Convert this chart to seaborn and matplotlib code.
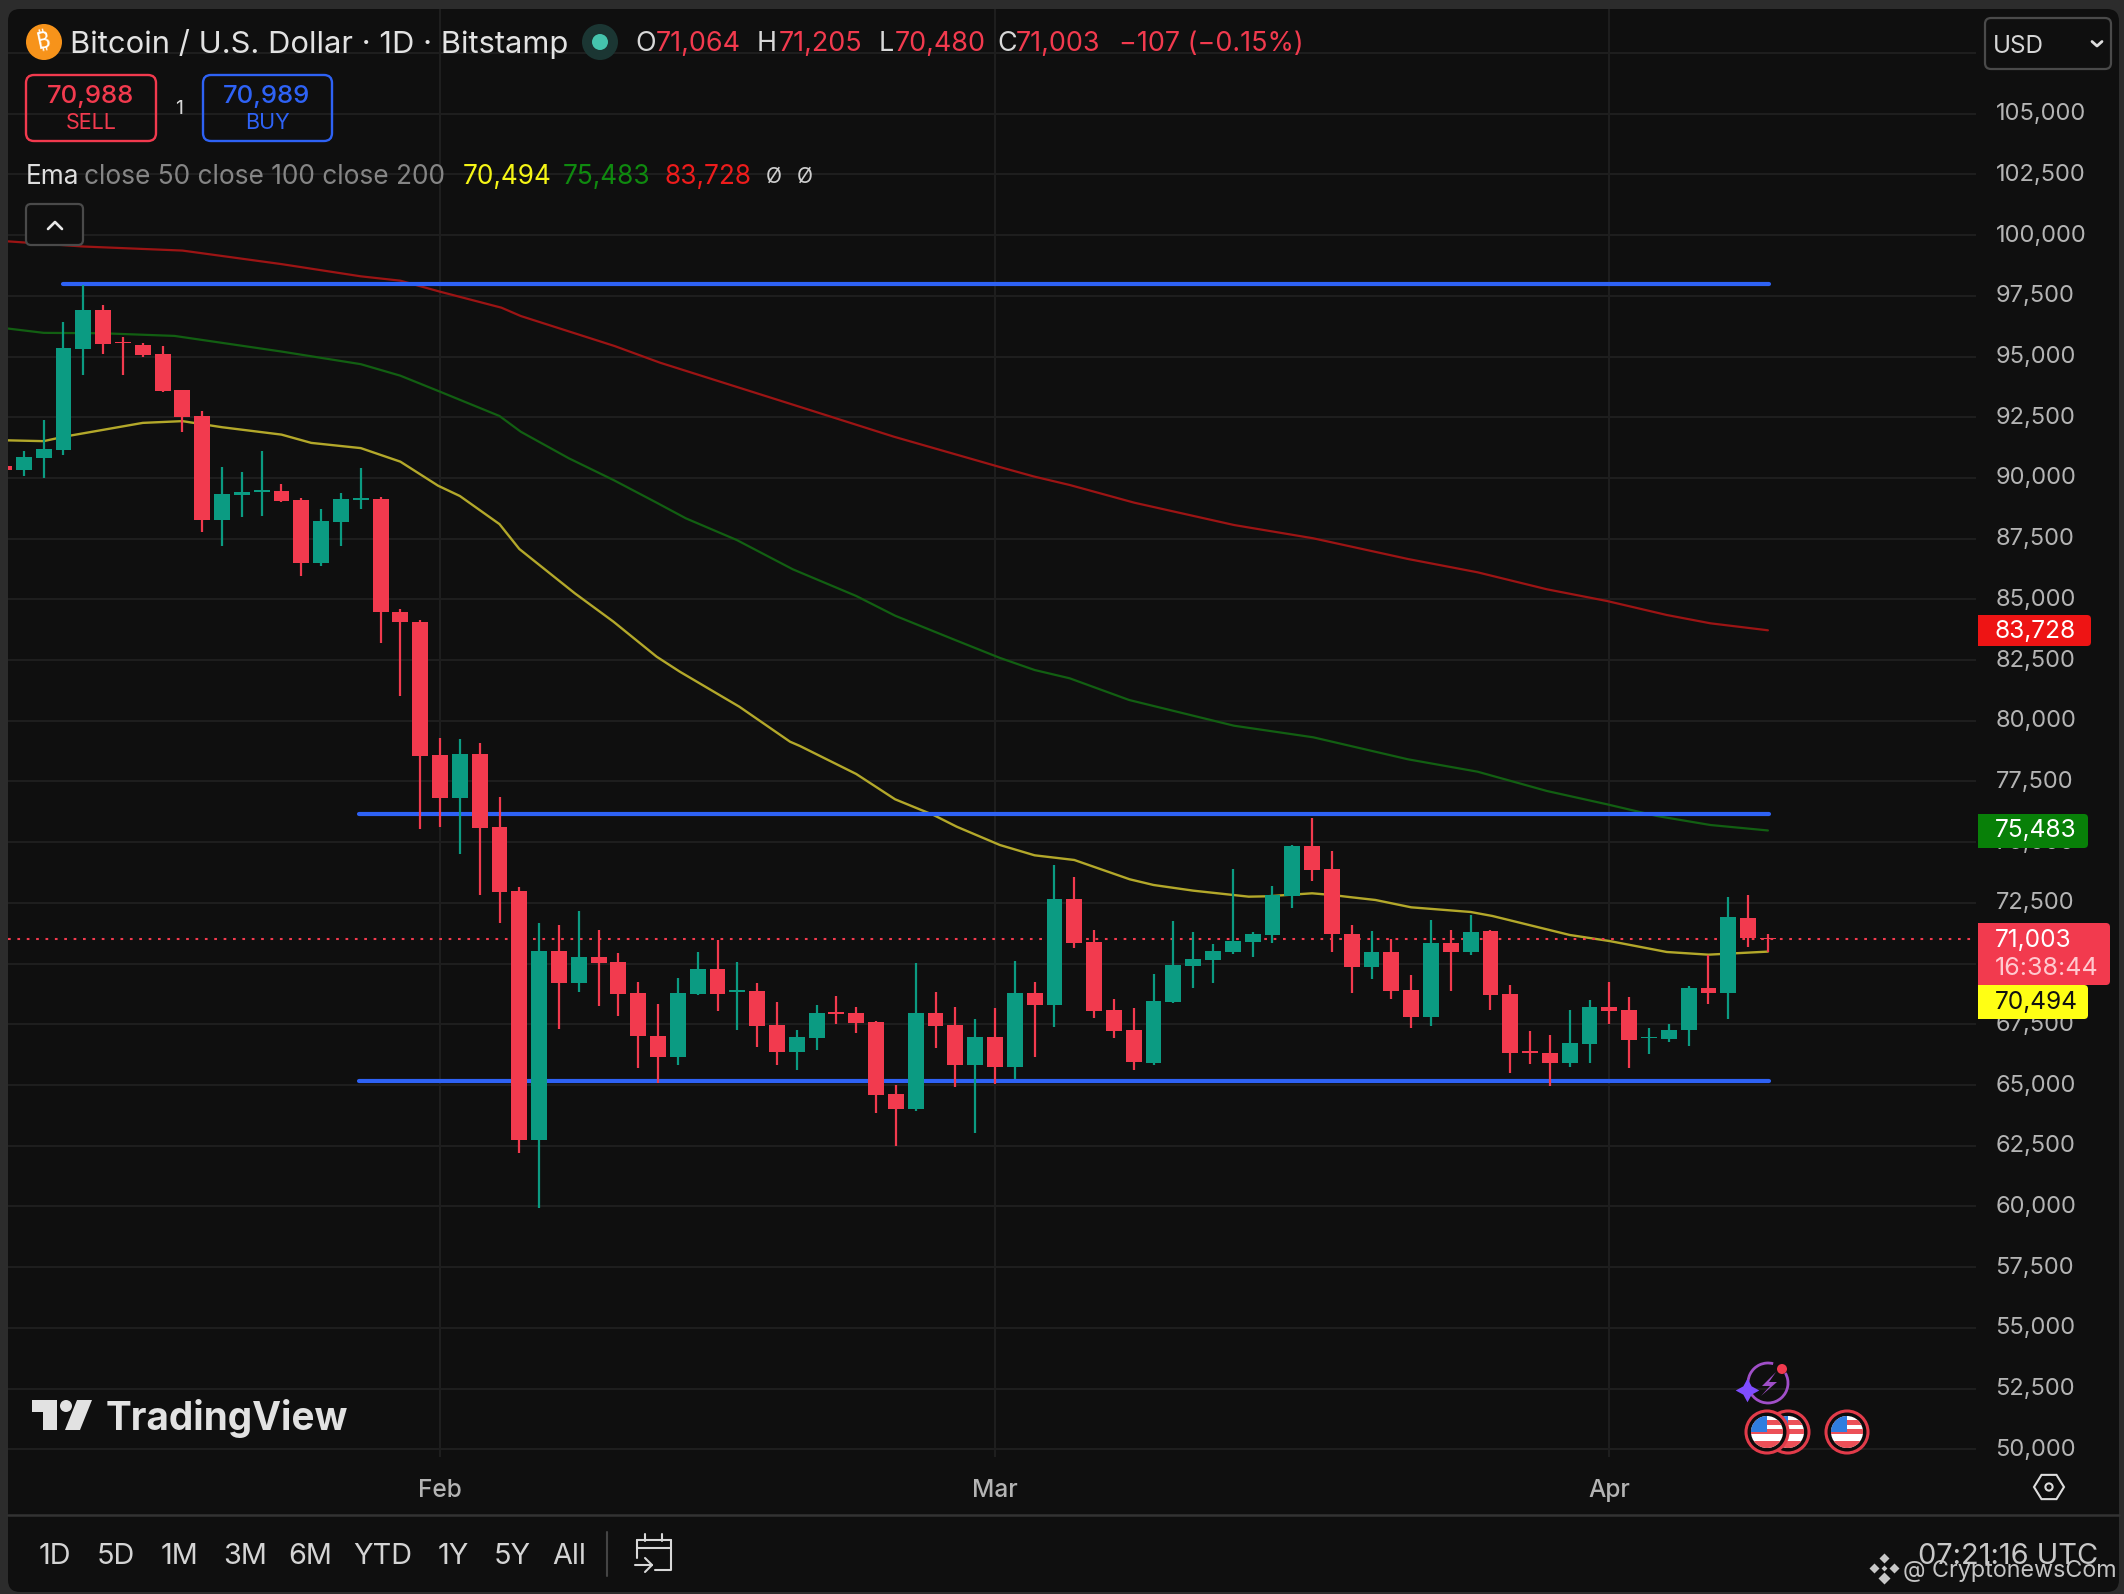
import numpy as np
import pandas as pd
import matplotlib
matplotlib.use("Agg")
import matplotlib.pyplot as plt
from matplotlib.patches import Rectangle, FancyBboxPatch, Circle, Polygon, Arc
from matplotlib.transforms import ScaledTranslation
import seaborn as sns

# ---------------- data ----------------
opens = [90500,90320,90820,91160,95315,96927,95619,95494,95118,93631,92557,88258,89315,89405,89458,89082,
         86485,88187,89100,89136,84497,84085,78605,76832,78641,75627,72977,62735,70519,69215,70272,70066,
         68776,67018,66153,68748,69764,68844,68872,67471,66359,66936,67993,67966,67595,64629,64011,67966,
         67471,65824,66977,65741,68789,68295,72661,70890,68089,67265,65906,68419,69902,70149,70478,70890,
         71179,72785,74844,73897,71220,69860,70478,68913,67801,70849,70478,71343,68748,66400,66318,65906,
         66689,68213,68089,66922,66895,67265,68995,68789,71879,71064]
highs = [90560,91106,92378,96443,97930,97142,95799,95566,95440,93631,92772,90443,90246,91106,89745,89172,
         88724,89369,90426,89208,84587,84139,79303,79250,79106,76876,73142,71659,71590,72167,71384,70437,
         69243,68350,69394,70465,70959,70053,69188,68419,67279,68295,68666,68213,67636,65000,70025,68831,
         68213,67719,68172,70108,69243,74062,73568,71384,68542,68172,69572,71755,71302,70808,73897,71302,
         73197,74886,75998,74638,71590,71343,71014,69531,71796,71384,72002,71384,69119,67224,67060,68089,
         68501,69243,68638,67348,67513,69078,70355,72744,72826,71205]
lows = [90280,90085,89996,90945,94258,95118,94258,94993,93542,91894,87757,87184,88384,88420,89011,85984,
        86396,87184,88706,83208,81041,75560,75632,74522,72820,71659,62213,59947,67307,68844,68254,67856,
        65700,65096,65824,68707,68048,67265,66565,65824,65618,66442,67513,67128,63847,62501,63943,66524,
        64918,63023,65041,65247,66153,67389,70643,67760,66936,65618,65824,68378,68995,69201,70396,70259,
        70849,72291,73403,70478,68789,69366,68542,67348,67430,68872,70355,68089,65494,65865,64959,65741,
        65906,67513,65700,66277,66757,66606,68336,67719,70684,70480]
closes = [90320,90855,91196,95369,96927,95530,95548,95082,93596,92521,88258,89333,89440,89512,89046,86485,
          88223,89136,89172,84462,84050,78569,76832,78641,75596,72950,62735,70519,69215,70272,70025,68748,
          67018,66153,68776,69764,68748,68913,67430,66359,66977,67966,67938,67554,64588,64011,67966,67430,
          65824,66977,65741,68789,68295,72661,70849,68048,67224,65947,68460,69943,70190,70519,70931,71220,
          72826,74844,73856,71220,69860,70478,68872,67801,70849,70478,71302,68707,66318,66332,65906,66730,
          68213,68048,66854,66977,67265,68995,68789,71920,71055,71003]

ema50_idx = [0,2,3,7,9,11,14,15.5,18,20,21.9,23,25,26,28.8,30.75,32.93,34.1,37.1,39.66,40.16,43,44.96,46.9,48.07,
             50.25,52,54,56.8,58,60,62.8,63.7,66,67,68,69.2,71,74,75.1,79,81,83.9,86,89]
ema50_val = [91554,91518,91697,92270,92342,92091,91787,91446,91231,90672,89683,89258,88100,87076,85251,84082,
             82640,82022,80581,79139,78962,77809,76767,76120,75638,74884,74460,74268,73472,73238,73005,72757,
             72771,72895,72826,72730,72620,72318,72126,71961,71179,70931,70478,70368,70494]
ema100_idx = [0,2,5,8.6,14,18,20,22,25,26.07,28.5,30.75,32.93,34.4,36.97,39.8,43,44.96,47.9,50.25,52,53.77,56.77,
              62.06,66.06,70.84,74.35,77.85,80.88,83.4,86.1,89]
ema100_val = [96175,95978,95960,95852,95208,94688,94213,93554,92553,91907,90811,89917,88983,88340,87446,86239,
              85140,84329,83357,82590,82092,81750,80857,79798,79320,78414,77904,77109,76561,76079,75708,75483]
ema200_idx = [0,4,9,14,18,20,22,25.1,26.07,30.8,33.1,39.86,44.9,50.25,52,53.77,57.03,62.06,66.06,70.84,74.35,
              77.85,80.88,83.9,86.1,89]
ema200_val = [99757,99534,99367,98809,98306,98126,97673,97014,96672,95437,94749,93006,91701,90450,90054,89712,
              88983,88064,87516,86664,86116,85416,84934,84357,84015,83728]

level_values = [97985, 76162, 65165]
level_starts = [3, 17.9, 17.9]
level_end = 89.08
last_price = 71003

month_pos = [22, 50, 81]
month_labels = ["Feb", "Mar", "Apr"]
price_ticks = list(range(50000, 107501, 2500))
price_labels = [f"{v:,}" if v <= 105000 else "" for v in price_ticks]
range_labels = ["1D", "5D", "1M", "3M", "6M", "YTD", "1Y", "5Y", "All"]
range_x = [55, 116, 180, 245, 310, 383, 453, 512, 569]

# ---------------- style ----------------
BG = "#0f0f0f"; EDGE = "#2c2c2c"; GRID = "#1e1e1e"
RED = "#f23a4e"; GREEN = "#0b9b82"; BLUE = "#2e62f5"
TXT = "#d8d8d8"; AXT = "#b4b4b4"

sns.set_theme(style="dark", rc={"axes.facecolor": BG, "figure.facecolor": EDGE})
plt.rcParams["font.family"] = ["Inter", "DejaVu Sans"]

W, H = 2124, 1594
fig = plt.figure(figsize=(W/100, H/100), dpi=100)
fig.patch.set_facecolor(EDGE)

# rounded pane behind everything
bg = fig.add_axes([0, 0, 1, 1], zorder=-1)
bg.set_xlim(0, W); bg.set_ylim(H, 0); bg.axis("off")
bg.add_patch(FancyBboxPatch((8+12, 9+12), 2119-8-24, 1592-9-24, boxstyle="round,pad=12,rounding_size=12",
                            fc=BG, ec="none"))

L, R, T, B = 8, 1976, 9, 1457
ax = fig.add_axes([L/W, 1-B/H, (R-L)/W, (B-T)/H], zorder=1)
ax.patch.set_visible(False)
for s in ax.spines.values():
    s.set_visible(False)
ax.set_xlim(0.2, 99.5)
ax.set_ylim(49679, 109316)

ax.set_yticks(price_ticks, price_labels)
ax.yaxis.tick_right()
ax.set_xticks(month_pos, month_labels)
ax.tick_params(axis="y", length=0, pad=14, labelsize=17, labelcolor=AXT)
ax.tick_params(axis="x", length=0, pad=15.5, labelsize=17.6, labelcolor=AXT)
up = ScaledTranslation(0, 2/100, fig.dpi_scale_trans)
for t in ax.get_yticklabels():
    t.set_transform(t.get_transform() + up)
for t in ax.get_xticklabels():
    t.set_fontweight("medium")
ax.grid(True, color=GRID, lw=1.5, zorder=0)
ax.set_axisbelow(True)

# EMA lines and levels through seaborn
sns.lineplot(x=ema200_idx, y=ema200_val, color="#9c1414", lw=1.6, ax=ax, sort=False, estimator=None, zorder=2)
sns.lineplot(x=ema100_idx, y=ema100_val, color="#125f12", lw=1.6, ax=ax, sort=False, estimator=None, zorder=2)
sns.lineplot(x=ema50_idx, y=ema50_val, color="#b3a82a", lw=1.7, ax=ax, sort=False, estimator=None, zorder=2)
for v, s in zip(level_values, level_starts):
    sns.lineplot(x=[s, level_end], y=[v, v], color=BLUE, lw=3.0, ax=ax, estimator=None, zorder=2.5,
                 solid_capstyle="round")
ax.axhline(last_price, color=RED, lw=1.5, ls=(0, (1.3, 3.2)), zorder=2.2)
ax.set_xlabel(""); ax.set_ylabel("")

# candles
df = pd.DataFrame({"o": opens, "h": highs, "l": lows, "c": closes})
df["i"] = np.arange(len(df))
df["col"] = np.where(df.c >= df.o, GREEN, RED)
ax.vlines(df.i, df.l, df.h, colors=df.col, lw=1.6, zorder=3)
ax.bar(df.i, (df.c - df.o).abs(), bottom=df[["o", "c"]].min(axis=1), width=0.8, color=df.col, lw=0, zorder=3.1)

# ---------------- chrome overlay (pixel coordinates) ----------------
ui = fig.add_axes([0, 0, 1, 1], zorder=10)
ui.set_xlim(0, W); ui.set_ylim(H, 0); ui.axis("off"); ui.patch.set_visible(False)
ui.plot([L, 2119], [1515, 1515], color="#333333", lw=1.8, zorder=1)

def txt(x, y, s, c=TXT, size=16, ha="left", va="center", **k):
    return ui.text(x, y, s, color=c, fontsize=size, ha=ha, va=va, zorder=5, **k)

def rbox(x0, y0, x1, y1, fc="none", ec="none", lw=1.5, r=8, z=3):
    ui.add_patch(FancyBboxPatch((x0+r, y0+r), x1-x0-2*r, y1-y0-2*r, boxstyle=f"round,pad={r},rounding_size={r}",
                                fc=fc, ec=ec, lw=lw, zorder=z))

# title row
ui.add_patch(Circle((44, 42), 18, fc="#f7931a", ec="none", zorder=3))
txt(44, 42, "₿", "white", 17, ha="center", fontweight="bold", rotation=12,
    family=["Noto Sans", "Roboto", "Open Sans", "Lato", "Inter", "Liberation Sans", "DejaVu Sans"])
txt(70, 44, "Bitcoin / U.S. Dollar · 1D · Bitstamp", "#e2e2e2", 22.25)
ui.add_patch(Circle((600, 42), 18, fc="#1b3633", ec="none", zorder=3))
ui.add_patch(Circle((600, 42), 8, fc="#45c4ad", ec="none", zorder=4))
for x, s, c in [(635, "O", TXT), (656, "71,064", RED), (757, "H", TXT), (779, "71,205", RED), (879, "L", TXT),
                (895, "70,480", RED), (997, "C", TXT), (1016, "71,003", RED), (1119, "−107 (−0.15%)", RED)]:
    txt(x, 44, s, c, 19.4)

# sell / buy
rbox(26, 75, 156, 141, ec=RED, lw=1.7)
rbox(203, 75, 332, 141, ec=BLUE, lw=1.7)
txt(91, 96.5, "70,988", RED, 18.5, ha="center", fontweight="medium")
txt(91, 123, "SELL", RED, 15.5, ha="center")
txt(267, 96.5, "70,989", BLUE, 18.5, ha="center", fontweight="medium")
txt(267, 123, "BUY", BLUE, 15.5, ha="center")
txt(179, 109, "1", TXT, 14, ha="center")

# indicator row
txt(26, 177, "Ema", "#dedede", 18.9)
txt(84, 177, "close 50 close 100 close 200", "#858585", 18.9)
txt(463, 177, "70,494", "#f5f516", 18.9)
txt(563, 177, "75,483", "#0f8a0f", 18.9)
txt(664, 177, "83,728", "#ee1c1c", 18.9)
txt(774, 177, "Ø", "#cccccc", 15, ha="center")
txt(805, 177, "Ø", "#cccccc", 15, ha="center")

rbox(26, 204, 83, 245, fc=BG, ec="#4a4a4a", lw=1.6, r=5)
ui.plot([48, 55, 62], [229, 222, 229], color="#e8e8e8", lw=1.9, zorder=5)

# USD selector
rbox(1985, 18, 2111, 69, ec="#4a4a4a", lw=1.6, r=6, fc=BG)
txt(1993, 46, "USD", "#d6d6d6", 17.5)
ui.plot([2092, 2097, 2102], [41.5, 46, 41.5], color="#dddddd", lw=2, zorder=5)

# price tags: square on the left, rounded on the right
def tag(x0, y0, x1, y1, fc, lines, r=4):
    rbox(x0, y0, x1, y1, fc=fc, r=r, z=4)
    ui.add_patch(Rectangle((x0, y0), 12, y1-y0, fc=fc, ec="none", zorder=4))
    for y, s, c, sz in lines:
        txt(1995, y, s, c, sz)

tag(1978, 615, 2091, 646, "#ee1414", [(631, "83,728", "white", 17.6)])
tag(1978, 814, 2088, 848, "#088008", [(830, "75,483", "white", 17.6)])
tag(1978, 923, 2110, 985, RED, [(940, "71,003", "white", 17.6), (968, "16:38:44", "#ffc9cf", 18)])
tag(1978, 985, 2088, 1019, "#ffff14", [(1002, "70,494", "#111111", 17.6)])

# bottom toolbar
for x, s in zip(range_x, range_labels):
    txt(x, 1556, s, "#d4d4d4", 20.8, ha="center")
ui.plot([607, 607], [1532, 1576], color="#444444", lw=1.5, zorder=3)
cal = dict(color="#d8d8d8", lw=1.5, zorder=4, solid_capstyle="round")
ui.plot([637, 637], [1558, 1540], **cal); ui.plot([637, 671], [1540, 1540], **cal)
ui.plot([671, 671, 667, 655], [1540, 1570, 1570, 1570], **cal); ui.plot([637, 671], [1548, 1548], **cal)
ui.plot([645, 645], [1534, 1541], **cal); ui.plot([662, 662], [1534, 1541], **cal)
ui.plot([635, 652], [1565, 1565], **cal); ui.plot([645, 652, 645], [1558, 1565, 1572], **cal)

txt(1918, 1556, "07:21:16 UTC", "#c8c8c8", 20.9)
txt(1903, 1571, "@ CryptonewsCom", "#c4c4c4", 16.8)
for dx, dy, sz in [(0, -10, 5), (-10, 0, 5), (10, 0, 5), (0, 10, 6), (0, 0, 3)]:
    ui.plot(1884+dx, 1568+dy, marker="D", ms=sz, color="#c8c8c8", mec="none", zorder=5)

# hexagon settings icon
ang = np.deg2rad(np.arange(0, 360, 60))
ui.add_patch(Polygon(np.c_[2049+15*np.cos(ang), 1487+14*np.sin(ang)], closed=True, fc="none", ec="#dddddd", lw=1.5, zorder=4))
ui.add_patch(Circle((2049, 1487), 3.6, fc="none", ec="#dddddd", lw=1.5, zorder=4))

# TradingView logo
logo = "#e2e2e2"
ui.add_patch(Polygon([(32, 1400), (57, 1400), (57, 1430), (43, 1430), (43, 1412), (32, 1412)], fc=logo, ec="none", zorder=4))
ui.add_patch(Circle((66, 1406), 6, fc=logo, ec="none", zorder=4))
ui.add_patch(Polygon([(77, 1400), (92, 1400), (80, 1430), (65, 1430)], fc=logo, ec="none", zorder=4))
txt(106, 1419, "TradingView", logo, 27.9, fontweight="bold", family=["Inter"])

# event icons
ui.add_patch(Arc((1768, 1383), 40, 40, theta1=-30, theta2=285, ec="#a04fc8", lw=2, zorder=4))
ui.add_patch(Polygon([(1776, 1372), (1762, 1386), (1770, 1386), (1761, 1396), (1777, 1382), (1769, 1382)], fc="#a04fc8", ec="none", zorder=5))
ui.add_patch(Circle((1782, 1369), 5, fc=RED, ec="none", zorder=6))
ui.plot(1747, 1390, marker=(4, 1, 0), ms=17, color="#7f4dff", mec="none", zorder=6)

def flag(cx, cy, z):
    ui.add_patch(Circle((cx, cy), 21, fc="#0c0c0c", ec="#e23b4a", lw=2.2, zorder=z))
    disc = Circle((cx, cy), 16, fc="white", ec="none", zorder=z+.1)
    ui.add_patch(disc)
    for k, yy in enumerate([cy-10, cy-1, cy+9]):
        r = Rectangle((cx-17, yy-(2 if k < 2 else 0)), 34, 5 if k < 2 else 9, fc="#ec5058", ec="none", zorder=z+.2)
        ui.add_patch(r); r.set_clip_path(disc)
    c = Rectangle((cx-17, cy-17), 17, 17, fc="#2f7de0", ec="none", zorder=z+.3)
    ui.add_patch(c); c.set_clip_path(disc)

flag(1788, 1432, 4); flag(1767, 1432, 5); flag(1847, 1432, 4)

fig.savefig("out.png", dpi=100, facecolor=fig.get_facecolor())
